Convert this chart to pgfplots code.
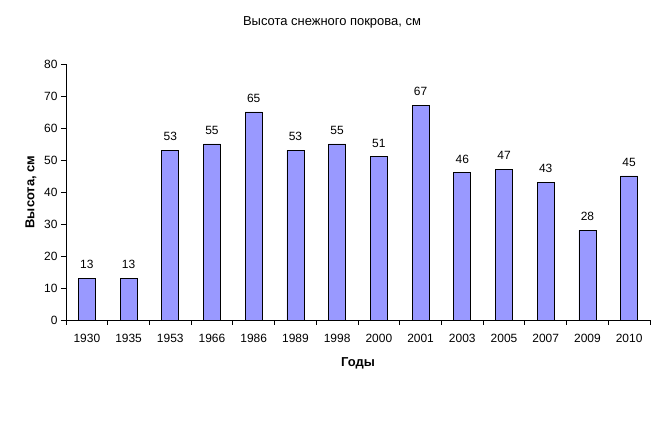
\documentclass[border=0pt]{standalone}
\usepackage{fontspec}
\setmainfont{Liberation Sans}
\usepackage{pgfplots}
\pgfplotsset{compat=1.18}
\definecolor{barc}{HTML}{9999FF}
\begin{document}
\begin{tikzpicture}
\useasboundingbox[fill=white] (0,0) rectangle (665bp,436bp);
\node[font=\fontsize{13}{15}\selectfont] at (332bp,414bp) {Высота снежного покрова, см};
\begin{axis}[
  at={(66bp,116bp)}, anchor=south west,
  scale only axis, width=584bp, height=256bp,
  xmin=-0.5, xmax=13.5, ymin=0, ymax=80,
  axis x line*=bottom, axis y line*=left,
  axis line style={black, line width=0.8pt, -},
  ytick={0,10,...,80},
  xtick={-0.5,0.5,...,13.5},
  x tick label as interval,
  xticklabels={1930,1935,1953,1966,1986,1989,1998,2000,2001,2003,2005,2007,2009,2010},
  tick style={black, line width=0.8pt},
  major tick length=5bp, tick align=outside,
  tick label style={font=\fontsize{12}{14}\selectfont},
  /pgf/number format/assume math mode=true,
  xticklabel style={yshift=-6bp},
  ylabel={\bfseries Высота, см},
  xlabel={\bfseries Годы},
  label style={font=\fontsize{13}{15}\selectfont\bfseries},
  ylabel style={at={(axis description cs:0,0.5)}, anchor=south, yshift=26bp},
  xlabel style={yshift=-8bp},
  ybar, bar width=17bp,
  nodes near coords,
  nodes near coords style={font=\fontsize{12}{14}\selectfont, yshift=6bp},
  clip=false,
]
\addplot[fill=barc, draw=black, line width=0.7pt] coordinates {
(0,13) (1,13) (2,53) (3,55) (4,65) (5,53) (6,55) (7,51) (8,67) (9,46) (10,47) (11,43) (12,28) (13,45)};
\end{axis}
\end{tikzpicture}
\end{document}
